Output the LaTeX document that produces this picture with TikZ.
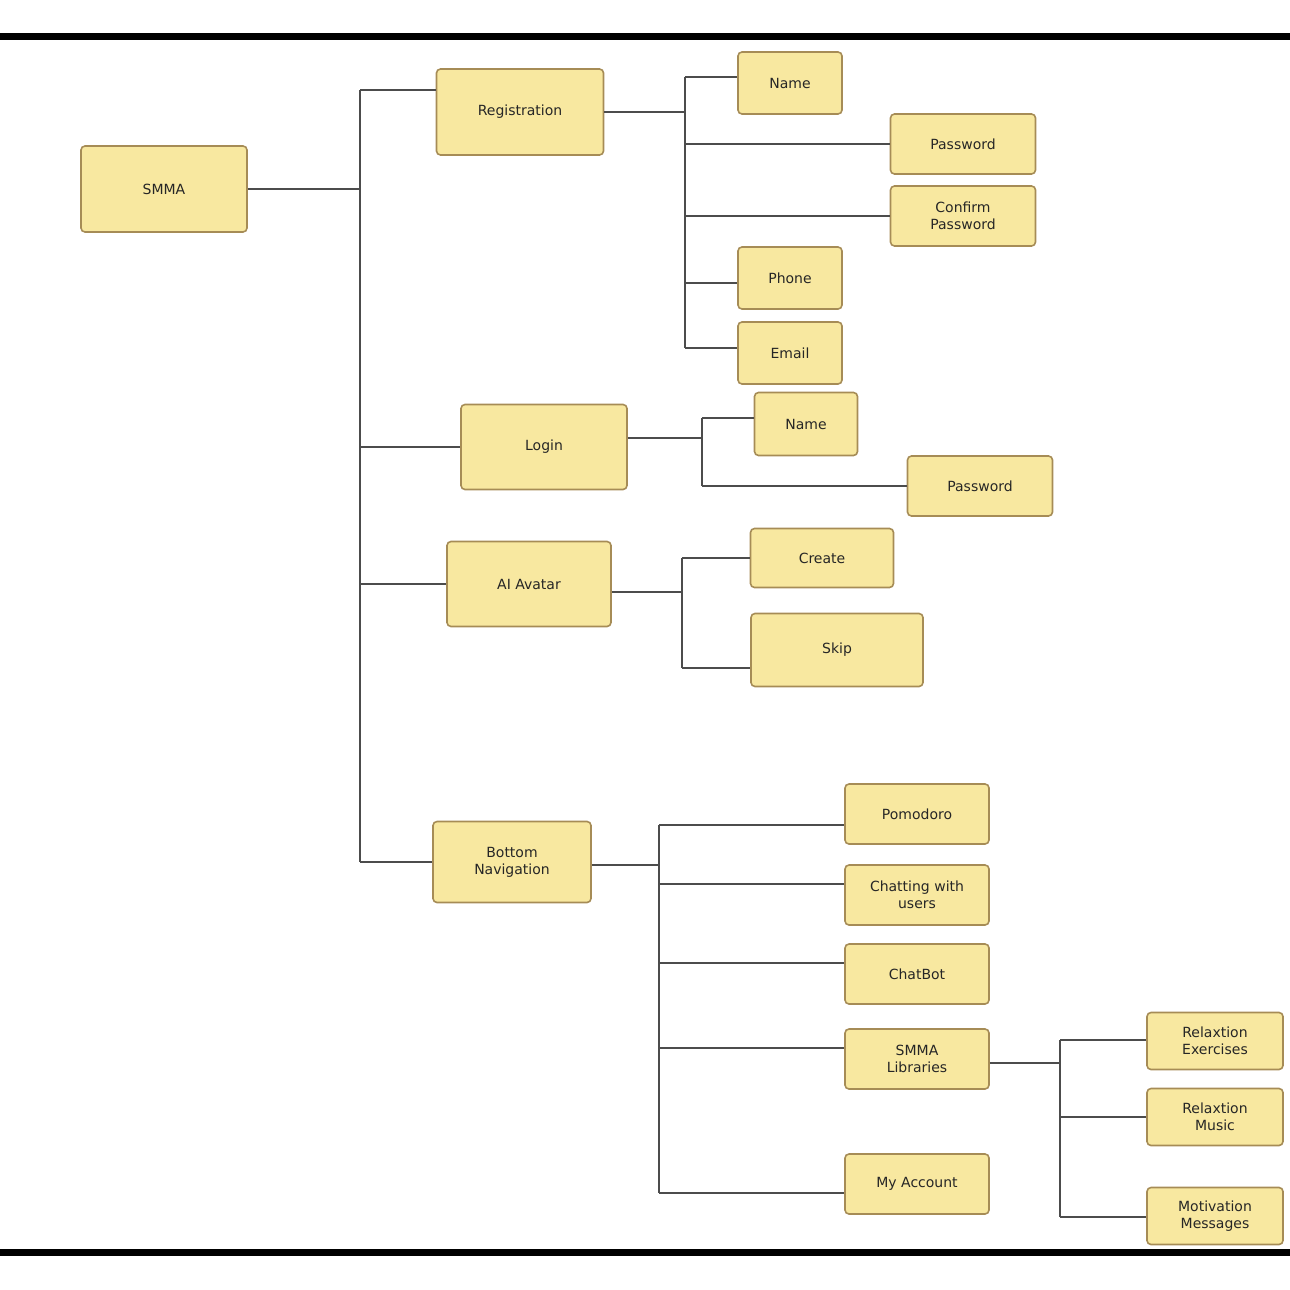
\documentclass[tikz,border=0pt]{standalone}
\usepackage{fontspec}
\setmainfont{DejaVu Sans}
\begin{document}
\begin{tikzpicture}[x=1pt,y=-1pt,
 box/.style={draw=black!60!yellow!40!brown, line width=1.6pt, fill=boxfill, rounded corners=4pt, align=center, inner sep=0pt, text=black!85, font=\fontsize{14}{17}\selectfont},
 ln/.style={draw=black!70, line width=1.5pt}]
\definecolor{boxfill}{HTML}{F8E8A0}
\useasboundingbox (0,0) rectangle (1290,1290);
\draw[line width=7pt] (0,37) -- (1290,37);
\draw[line width=7pt] (0,1252) -- (1290,1252);
\newcommand{\bx}[6]{\node[box, minimum width=#4, minimum height=#5] (#1) at (#2,#3) {#6};}
\bx{smma}{164}{189}{166}{86}{SMMA}
\bx{reg}{520}{112}{167}{86}{Registration}
\bx{n1}{790}{83}{104}{62}{Name}
\bx{p1}{963}{144}{145}{60}{Password}
\bx{cp}{963}{216}{145}{60}{Confirm\\Password}
\bx{ph}{790}{278}{104}{62}{Phone}
\bx{em}{790}{353}{104}{62}{Email}
\bx{login}{544}{447}{166}{85}{Login}
\bx{n2}{806}{424}{103}{63}{Name}
\bx{p2}{980}{486}{145}{60}{Password}
\bx{ai}{529}{584}{164}{85}{AI Avatar}
\bx{cr}{822}{558}{143}{59}{Create}
\bx{sk}{837}{650}{172}{73}{Skip}
\bx{bn}{512}{862}{158}{81}{Bottom\\Navigation}
\bx{pom}{917}{814}{144}{60}{Pomodoro}
\bx{chu}{917}{895}{144}{60}{Chatting with\\users}
\bx{cb}{917}{974}{144}{60}{ChatBot}
\bx{lib}{917}{1059}{144}{60}{SMMA\\Libraries}
\bx{acc}{917}{1184}{144}{60}{My Account}
\bx{rex}{1215}{1041}{136}{57}{Relaxtion\\Exercises}
\bx{rmu}{1215}{1117}{136}{57}{Relaxtion\\Music}
\bx{mot}{1215}{1216}{136}{57}{Motivation\\Messages}
% trunks
\coordinate (t0a) at (360,90); \coordinate (t0b) at (360,862);
\coordinate (t1a) at (685,77); \coordinate (t1b) at (685,348);
\coordinate (t2a) at (702,418); \coordinate (t2b) at (702,486);
\coordinate (t3a) at (682,558); \coordinate (t3b) at (682,668);
\coordinate (t4a) at (659,825); \coordinate (t4b) at (659,1193);
\coordinate (t5a) at (1060,1040); \coordinate (t5b) at (1060,1217);
\draw[ln] (t0a) -- (t0b); \draw[ln] (t1a) -- (t1b); \draw[ln] (t2a) -- (t2b);
\draw[ln] (t3a) -- (t3b); \draw[ln] (t4a) -- (t4b); \draw[ln] (t5a) -- (t5b);
\draw[ln] (smma.east) -- (smma.east -| t0a);
\draw[ln] (t0a) -- (t0a -| reg.west);
\draw[ln] (login.west) -- (login.west -| t0a);
\draw[ln] (ai.west) -- (ai.west -| t0a);
\draw[ln] (t0b) -- (t0b -| bn.west);
\draw[ln] (reg.east) -- (reg.east -| t1a);
\draw[ln] (t1a) -- (t1a -| n1.west);
\draw[ln] (p1.west) -- (p1.west -| t1a);
\draw[ln] (cp.west) -- (cp.west -| t1a);
\draw[ln] ([yshift=-5]ph.west) -- ([yshift=-5]ph.west -| t1a);
\draw[ln] (t1b) -- (t1b -| em.west);
\draw[ln] ([yshift=9]login.east) -- ([yshift=9]login.east -| t2a);
\draw[ln] (t2a) -- (t2a -| n2.west);
\draw[ln] (t2b) -- (t2b -| p2.west);
\draw[ln] ([yshift=-8]ai.east) -- ([yshift=-8]ai.east -| t3a);
\draw[ln] (t3a) -- (t3a -| cr.west);
\draw[ln] (t3b) -- (t3b -| sk.west);
\draw[ln] ([yshift=-3]bn.east) -- ([yshift=-3]bn.east -| t4a);
\draw[ln] (t4a) -- (t4a -| pom.west);
\draw[ln] ([yshift=11]chu.west) -- ([yshift=11]chu.west -| t4a);
\draw[ln] ([yshift=11]cb.west) -- ([yshift=11]cb.west -| t4a);
\draw[ln] ([yshift=11]lib.west) -- ([yshift=11]lib.west -| t4a);
\draw[ln] (t4b) -- (t4b -| acc.west);
\draw[ln] ([yshift=-4]lib.east) -- ([yshift=-4]lib.east -| t5a);
\draw[ln] (t5a) -- (t5a -| rex.west);
\draw[ln] (rmu.west) -- (rmu.west -| t5a);
\draw[ln] (t5b) -- (t5b -| mot.west);
\end{tikzpicture}
\end{document}
